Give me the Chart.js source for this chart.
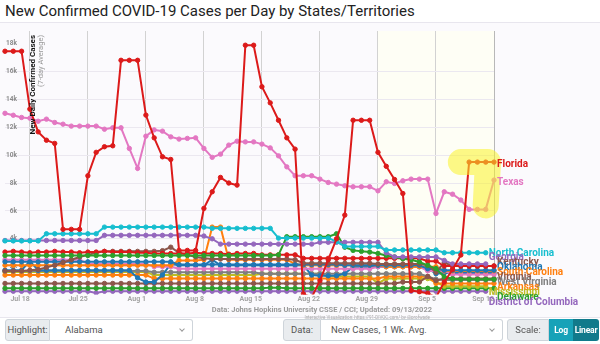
<!DOCTYPE html>
<html>
<head>
<meta charset="utf-8">
<script src="https://cdn.jsdelivr.net/npm/chart.js@4.4.1/dist/chart.umd.min.js"></script>
<style>
  body { margin: 0; width: 600px; height: 344px; overflow: hidden; background: #fff; font-family: Roboto, "Noto Sans", sans-serif; position: relative; }
  #title { position: absolute; left: 5px; top: 1px; font-size: 15px; line-height: 20px; color: #222; white-space: nowrap; }
  #frame { position: absolute; left: 0; top: 22px; width: 600px; height: 294px; background: #fbfafd; border-top: 1px solid #e8e6ee; border-bottom: 1px solid #e8e6ee; }
  #c { position: absolute; left: 0; top: 22px; }
  .credit { position: absolute; right: 168px; top: 305px; font-size: 7.5px; font-weight: bold; color: #9a9a9a; white-space: nowrap; }
  .credit2 { position: absolute; right: 168px; top: 315px; font-size: 4.5px; color: #aaa; white-space: nowrap; }
  .ctrl { position: absolute; top: 319px; height: 22px; display: flex; font-size: 9.5px; color: #555; box-sizing: border-box; }
  .lab { background: #e9ecef; border: 1px solid #ced4da; border-radius: 3px 0 0 3px; line-height: 20px; text-align: center; box-sizing: border-box; }
  .sel { background: #fff; border: 1px solid #ced4da; border-left: none; border-radius: 0 3px 3px 0; line-height: 20px; position: relative; box-sizing: border-box; }
  .chev { position: absolute; right: 8px; top: 7px; width: 3px; height: 3px; border-right: 1px solid #999; border-bottom: 1px solid #999; transform: rotate(45deg); }
  .btn { color: #fff; line-height: 22px; font-weight: bold; font-size: 8.5px; letter-spacing: -0.2px; text-align: center; }
</style>
</head>
<body>
<div id="title">New Confirmed COVID-19 Cases per Day by States/Territories</div>
<div id="frame"></div>
<canvas id="c" width="600" height="296"></canvas>
<div class="credit">Data: Johns Hopkins University CSSE / CCI; Updated: 09/13/2022</div>
<div class="credit2">Interactive Visualization: https://91-DIVOC.com/ by @profwade_</div>

<div class="ctrl" style="left:5px">
  <div class="lab" style="width:45px">Highlight:</div>
  <div class="sel" style="width:143px;padding-left:15px">Alabama<span class="chev"></span></div>
</div>
<div class="ctrl" style="left:283px">
  <div class="lab" style="width:38px">Data:</div>
  <div class="sel" style="width:182px;padding-left:10px">New Cases, 1 Wk. Avg.<span class="chev"></span></div>
</div>
<div class="ctrl" style="left:507px">
  <div class="lab" style="width:42px">Scale:</div>
  <div class="btn" style="width:24px;background:#17a2b8">Log</div>
  <div class="btn" style="width:26px;background:#117a8b;border-radius:0 3px 3px 0">Linear</div>
</div>

<script>
// days shown on the x axis (one point per day)
const days = [
  'Jul 15','Jul 16','Jul 17','Jul 18','Jul 19','Jul 20','Jul 21','Jul 22','Jul 23','Jul 24',
  'Jul 25','Jul 26','Jul 27','Jul 28','Jul 29','Jul 30','Jul 31','Aug 1','Aug 2','Aug 3',
  'Aug 4','Aug 5','Aug 6','Aug 7','Aug 8','Aug 9','Aug 10','Aug 11','Aug 12','Aug 13',
  'Aug 14','Aug 15','Aug 16','Aug 17','Aug 18','Aug 19','Aug 20','Aug 21','Aug 22','Aug 23',
  'Aug 24','Aug 25','Aug 26','Aug 27','Aug 28','Aug 29','Aug 30','Aug 31','Sep 1','Sep 2',
  'Sep 3','Sep 4','Sep 5','Sep 6','Sep 7','Sep 8','Sep 9','Sep 10','Sep 11','Sep 12'
];
const yTicks = [2, 4, 6, 8, 10, 12, 14, 16, 18]; // thousands
const recentFrom = 'Aug 29';

// new cases per day, 7-day average, in thousands
const florida = [
  17.45,17.45,17.45,13.3,11.67,11.07,10.84,4.68,4.68,4.68,
  8.52,10.2,10.6,10.67,16.8,16.8,16.8,12.87,11.24,9.88,
  9.69,3.17,3.17,3.17,6.18,7.37,8.4,8.0,7.85,17.88,
  17.88,14.9,13.75,12.5,11.24,10.43,0.05,-0.2,1.0,2.5,
  4.0,5.7,12.5,12.5,12.5,10.2,9.2,8.25,7.25,0.3,
  0.2,0.1,-0.2,0.9,1.8,2.84,9.5,9.5,9.5,9.5
];
const texas = [
  13.0,12.86,12.7,12.65,12.43,12.58,12.34,12.22,12.08,12.08,
  12.08,12.08,11.86,11.96,11.96,10.48,9.05,11.36,11.81,11.72,
  11.31,11.15,11.2,11.24,10.48,9.84,10.07,10.72,11.0,10.95,
  10.95,10.79,10.52,9.95,9.16,8.52,8.52,8.52,8.28,8.04,
  7.92,7.8,7.73,7.73,7.73,7.44,8.09,7.97,8.16,8.28,
  8.28,8.28,5.82,7.37,7.2,6.78,6.11,6.11,6.11,8.21
];
const northCarolina = [
  3.85,3.85,3.85,3.85,3.85,4.36,4.36,4.36,4.36,4.36,
  4.36,4.36,4.84,4.84,4.84,4.84,4.84,4.84,4.84,4.84,
  4.84,4.84,4.84,4.84,4.84,4.75,4.75,4.75,4.75,4.75,
  4.75,4.75,4.75,4.05,4.05,4.05,4.05,4.05,4.05,4.05,
  3.8,3.45,3.45,3.45,3.45,3.45,3.2,3.2,3.2,3.2,
  3.2,3.2,3.2,3.0,3.0,3.0,3.0,3.0,3.0,null
];
const georgia = [
  3.88,3.88,3.88,3.88,3.88,3.88,3.88,3.88,3.88,3.88,
  3.88,3.88,4.25,4.25,4.25,4.25,4.25,4.25,4.25,4.25,
  4.25,4.25,4.25,4.25,4.2,4.0,3.62,3.62,3.62,3.62,
  3.62,3.62,3.62,3.62,3.62,3.62,3.62,3.62,3.75,3.75,
  3.75,3.75,3.75,3.75,3.75,3.75,3.0,2.7,2.7,2.7,
  2.7,2.7,2.7,2.45,2.2,2.2,2.2,2.2,2.2,null
];
const alabama = [
  3.05,3.1,3.05,3.0,3.05,3.05,3.1,3.05,3.05,3.0,
  3.05,3.05,3.1,3.05,3.05,3.05,3.0,3.0,2.95,2.95,
  2.95,2.95,2.95,3.0,2.95,2.95,2.95,2.9,2.95,2.95,
  2.95,2.85,2.85,2.85,2.85,2.85,2.6,2.6,2.6,2.6,
  2.6,2.6,2.6,2.6,2.6,2.6,2.6,2.6,2.6,2.6,
  2.6,2.4,2.4,2.05,2.05,2.05,2.05,2.05,2.05,2.05
];
const louisiana = [
  2.8,2.8,2.8,2.8,2.8,2.8,2.8,2.8,2.8,2.8,
  2.8,2.8,2.8,2.8,2.8,2.8,2.8,2.8,2.8,2.8,
  2.8,2.8,2.8,2.8,2.8,2.8,2.8,2.8,2.8,2.8,
  2.8,2.8,2.8,2.85,4.15,4.15,4.15,4.15,4.15,4.15,
  4.36,3.4,3.17,3.1,3.05,2.95,2.8,2.7,2.57,2.5,
  2.34,2.1,1.86,1.26,1.14,1.1,1.1,1.1,1.1,1.1
];
const tennessee = [
  2.5,2.5,2.5,2.5,2.5,2.5,2.5,2.5,2.5,2.5,
  2.2,2.2,2.2,2.2,2.2,2.2,2.2,2.2,2.0,2.0,
  2.0,1.85,1.85,1.85,1.85,1.85,1.85,1.85,1.85,1.85,
  1.85,1.85,1.85,1.85,1.85,1.85,1.85,1.85,1.85,1.85,
  1.85,1.85,1.85,1.85,1.85,2.0,2.0,2.0,2.0,2.0,
  2.0,1.7,1.7,1.7,1.45,1.45,1.45,1.45,1.45,1.45
];
const oklahoma = [
  2.35,2.35,2.35,2.35,2.35,2.35,2.35,2.35,2.35,2.35,
  2.35,2.35,2.35,2.35,2.35,2.35,2.35,2.35,2.35,2.35,
  2.35,2.15,2.15,2.15,2.15,2.15,2.15,2.15,2.15,2.15,
  2.15,2.15,2.15,2.15,2.15,2.15,2.15,2.15,2.15,2.15,
  2.15,2.1,2.1,2.1,2.1,2.1,2.1,2.1,2.1,2.1,
  2.1,1.85,1.85,1.75,1.75,1.75,1.75,1.75,1.75,1.75
];
const missouri = [
  1.75,1.75,1.75,2.4,1.75,1.75,1.75,1.75,1.75,1.75,
  1.75,1.75,1.75,1.75,1.75,1.75,1.2,0.9,0.9,1.4,
  2.2,2.1,2.1,2.1,2.1,2.5,2.1,2.1,2.1,2.1,
  2.1,2.1,2.1,2.1,2.1,2.1,2.1,1.4,1.35,1.35,
  1.35,1.5,2.0,2.0,2.0,2.0,2.0,2.0,2.0,2.0,
  2.0,1.9,1.5,1.55,1.55,1.55,1.55,1.55,1.55,1.55
];
const southCarolina = [
  2.1,2.1,2.1,2.1,2.1,2.1,2.1,2.1,2.1,2.1,
  2.1,2.1,2.1,2.1,2.1,2.1,2.1,2.1,2.1,2.1,
  2.1,2.45,2.45,2.45,2.5,4.84,4.84,2.5,2.5,2.5,
  2.5,2.5,2.5,2.5,2.5,2.2,2.1,2.1,2.1,2.1,
  2.1,2.1,2.1,2.1,2.1,2.1,2.0,2.0,2.0,2.0,
  2.0,2.0,2.0,1.7,1.7,1.7,1.7,1.7,1.7,1.7
];
const kentucky = [
  1.7,1.7,1.7,1.75,1.8,1.95,2.1,2.3,2.5,2.7,
  2.85,3.0,3.1,3.1,3.1,3.1,3.1,3.1,3.1,3.15,
  3.4,3.0,2.85,2.7,2.6,2.55,2.55,2.55,2.55,2.55,
  2.55,2.55,2.55,2.55,2.55,2.5,2.25,2.25,2.25,2.25,
  2.25,2.25,2.25,2.25,2.25,2.2,2.2,2.2,2.2,2.2,
  2.2,2.1,1.6,2.3,2.05,2.05,2.05,2.05,2.05,2.05
];
const westVirginia = [
  1.7,1.7,1.7,1.7,1.7,1.7,1.7,1.7,1.7,1.7,
  1.7,1.7,1.7,1.7,1.7,1.7,1.7,1.7,1.6,1.6,
  1.6,1.6,1.6,1.6,1.6,1.6,1.6,1.6,1.6,1.6,
  1.6,1.5,1.5,1.5,1.5,1.5,1.5,1.5,1.5,1.5,
  1.5,1.5,1.5,1.5,1.5,1.5,1.5,1.5,1.5,1.5,
  1.5,1.3,1.1,1.05,1.05,1.05,1.05,1.05,1.05,1.05
];
const mississippi = [
  1.62,1.62,1.62,1.62,1.62,1.62,1.62,1.62,1.62,1.62,
  1.62,1.62,1.62,1.62,1.62,1.62,1.62,1.62,1.4,1.4,
  1.4,1.4,1.4,1.4,1.4,1.4,1.4,1.4,1.4,1.4,
  1.4,1.5,1.5,1.5,1.5,1.5,1.5,1.5,1.5,1.3,
  1.3,1.3,1.3,1.3,1.3,0.8,1.15,1.15,1.15,1.15,
  1.15,1.15,0.9,0.6,0.6,0.6,0.6,0.6,0.6,null
];
const arkansas = [
  1.4,1.4,1.4,1.4,1.4,1.4,1.4,1.4,1.4,1.4,
  1.4,1.4,1.4,1.4,1.4,1.4,1.4,1.4,1.15,1.15,
  1.15,1.15,1.15,1.15,1.15,1.15,1.15,1.15,1.15,1.15,
  1.15,1.15,1.15,1.15,1.15,1.15,1.15,1.15,1.15,1.15,
  1.15,1.15,1.15,1.15,1.15,1.15,1.3,1.3,1.3,1.3,
  1.3,1.3,0.8,0.8,0.8,0.8,0.8,0.8,0.8,0.8
];
const virginia = [
  0.8,0.8,0.8,0.8,0.8,0.8,0.8,0.8,0.8,0.8,
  0.8,0.8,0.8,0.8,0.8,0.8,0.8,0.8,0.8,0.8,
  0.8,0.8,0.8,0.8,0.8,0.8,0.8,0.8,0.8,0.8,
  0.8,0.8,0.8,0.8,0.8,0.8,0.8,0.8,0.8,0.8,
  0.8,0.8,0.8,0.8,0.8,0.8,0.8,0.8,0.9,0.9,
  0.9,1.3,1.0,1.15,1.15,1.15,1.15,1.15,1.15,1.15
];
const delaware = [
  0.45,0.45,0.45,0.45,0.45,0.45,0.45,0.45,0.45,0.45,
  0.45,0.45,0.45,0.45,0.45,0.45,0.45,0.45,0.45,0.45,
  0.45,0.45,0.45,0.45,0.45,0.45,0.45,0.45,0.45,0.45,
  0.45,0.45,0.5,0.5,0.45,0.45,0.45,0.45,0.45,0.45,
  0.45,0.45,0.45,0.45,0.45,0.45,0.45,0.45,0.45,0.45,
  0.45,0.45,0.45,0.45,0.45,0.45,0.45,0.45,0.45,0.45
];
const districtOfColumbia = [
  0.24,0.24,0.24,0.24,0.24,0.24,0.24,0.24,0.24,0.24,
  0.24,0.12,0.24,0.24,0.24,0.24,0.24,0.24,0.24,0.24,
  0.24,0.24,0.24,0.24,0.24,0.24,0.24,0.24,0.24,0.24,
  0.24,0.24,0.24,0.24,0.24,0.24,0.24,0.24,0.24,0.24,
  0.24,0.24,0.24,0.24,0.24,0.24,0.24,0.24,0.24,0.24,
  0.24,0.24,0.24,0.24,0.24,0.24,0.24,0.24,0.24,null
];

// first in the list is drawn on top
const series = [
  { name: 'Florida', data: florida, color: '#dc1a1a', label: true },
  { name: 'Texas', data: texas, color: '#e377c2', label: true },
  { name: 'North Carolina', data: northCarolina, color: '#17becf', label: true },
  { name: 'Georgia', data: georgia, color: '#9467bd', label: true },
  { name: 'Louisiana', data: louisiana, color: '#2ca02c' },
  { name: 'Alabama', data: alabama, color: '#dc1a1a' },
  { name: 'Kentucky', data: kentucky, color: '#8c564b', label: true },
  { name: 'Oklahoma', data: oklahoma, color: '#1f77b4', label: true },
  { name: 'South Carolina', data: southCarolina, color: '#ff7f0e', label: true },
  { name: 'Tennessee', data: tennessee, color: '#e377c2' },
  { name: 'Missouri', data: missouri, color: '#1f77b4' },
  { name: 'Virginia', data: virginia, color: '#8c564b', label: true },
  { name: 'West Virginia', data: westVirginia, color: '#7f7f7f', label: true },
  { name: 'Arkansas', data: arkansas, color: '#ff7f0e', label: true },
  { name: 'Mississippi', data: mississippi, color: '#bcbd22', label: true },
  { name: 'Delaware', data: delaware, color: '#2ca02c', label: true },
  { name: 'District of Columbia', data: districtOfColumbia, color: '#9467bd', label: true }
];

const decor = {
  id: 'decor',
  beforeDraw(chart) {
    const { ctx, chartArea: a, scales: { x } } = chart;
    const x0 = x.getPixelForValue(days.indexOf(recentFrom));
    const x1 = x.getPixelForValue(days.length - 1);
    ctx.save();
    ctx.fillStyle = '#fefef5';
    ctx.fillRect(x0, a.top, x1 - x0, a.bottom - a.top);
    ctx.restore();
  },
  beforeDatasetsDraw(chart) {
    const { ctx, scales: { y } } = chart;
    ctx.save();
    ctx.font = 'bold 6.5px Roboto';
    ctx.fillStyle = '#8a8a8a';
    ctx.textAlign = 'right';
    ctx.textBaseline = 'middle';
    yTicks.forEach(v => ctx.fillText(v + 'k', 17, y.getPixelForValue(v)));
    ctx.restore();
  },
  afterDatasetsDraw(chart) {
    const { ctx, chartArea: a, scales: { x, y } } = chart;
    ctx.save();

    // highlighter mark over Florida / Texas
    const n = days.length - 1;
    const yF = y.getPixelForValue(florida[n]);
    const yT = y.getPixelForValue(texas[n - 1]);
    ctx.strokeStyle = 'rgba(250, 242, 40, 0.55)';
    ctx.lineWidth = 26;
    ctx.lineCap = 'round';
    ctx.lineJoin = 'round';
    ctx.beginPath();
    ctx.moveTo(x.getPixelForValue(n - 4), yF);
    ctx.lineTo(x.getPixelForValue(n) - 6, yF);
    ctx.lineTo(x.getPixelForValue(n - 1), yT - 4);
    ctx.stroke();

    // y axis title, anchored at the top of the plot
    ctx.translate(33, a.top + 4);
    ctx.rotate(-Math.PI / 2);
    ctx.textAlign = 'right';
    ctx.textBaseline = 'middle';
    ctx.font = 'bold 8px Roboto';
    ctx.fillStyle = '#111';
    ctx.fillText('New Daily Confirmed Cases', 0, 0);
    ctx.font = '7.5px Roboto';
    ctx.fillStyle = '#999';
    ctx.fillText('(7-day Average)', 0, 8);
    ctx.restore();

    // end-of-line state labels, pushed apart where they collide
    const items = series.filter(s => s.label).map(s => {
      let i = s.data.length - 1;
      while (s.data[i] == null) i--;
      return { text: s.name, color: s.color, x: x.getPixelForValue(i) + 3, y: y.getPixelForValue(s.data[i]) };
    });
    items.sort((p, q) => p.y - q.y);
    const gap = 4.9;
    for (let k = 0; k < 300; k++) {
      for (let j = 1; j < items.length; j++) {
        const d = items[j].y - items[j - 1].y;
        if (d < gap) {
          const m = (gap - d) / 2;
          items[j - 1].y -= m;
          items[j].y += m;
        }
      }
    }
    ctx.save();
    ctx.font = 'bold 10px Roboto';
    ctx.textBaseline = 'middle';
    items.forEach(it => {
      ctx.fillStyle = it.color;
      ctx.fillText(it.text, it.x, it.y + 2);
    });
    ctx.restore();
  }
};

new Chart(document.getElementById('c'), {
  type: 'line',
  data: {
    labels: days,
    datasets: series.map(s => ({
      label: s.name,
      data: s.data,
      borderColor: s.color,
      backgroundColor: s.color,
      pointBackgroundColor: s.color,
      borderWidth: 2,
      pointRadius: 2.2,
      pointBorderWidth: 1,
      tension: 0
    }))
  },
  options: {
    responsive: false,
    animation: false,
    layout: { padding: { top: 9, right: 106, bottom: 15, left: 0 } },
    plugins: { legend: { display: false }, tooltip: { enabled: false } },
    scales: {
      x: {
        border: { display: false },
        grid: {
          drawTicks: false,
          color: c => (c.index % 7 === 3 ? (c.index === days.length - 1 ? '#b8b8b8' : '#d2d2d2') : 'rgba(0,0,0,0)')
        },
        ticks: {
          autoSkip: false,
          maxRotation: 0,
          minRotation: 0,
          align: 'end',
          padding: 0,
          color: '#a3a3a3',
          font: { size: 7, weight: 'bold', family: 'Roboto' },
          callback: (v, i) => (i % 7 === 3 ? days[i] : '')
        }
      },
      y: {
        min: 0,
        max: 18.9,
        border: { display: false },
        grid: {
          drawTicks: false,
          color: c => (c.tick.value > 0 && c.tick.value % 2 === 0 ? '#ebe8f0' : 'rgba(0,0,0,0)')
        },
        ticks: { display: false, stepSize: 2 }
      }
    }
  },
  plugins: [decor]
});
</script>
</body>
</html>
